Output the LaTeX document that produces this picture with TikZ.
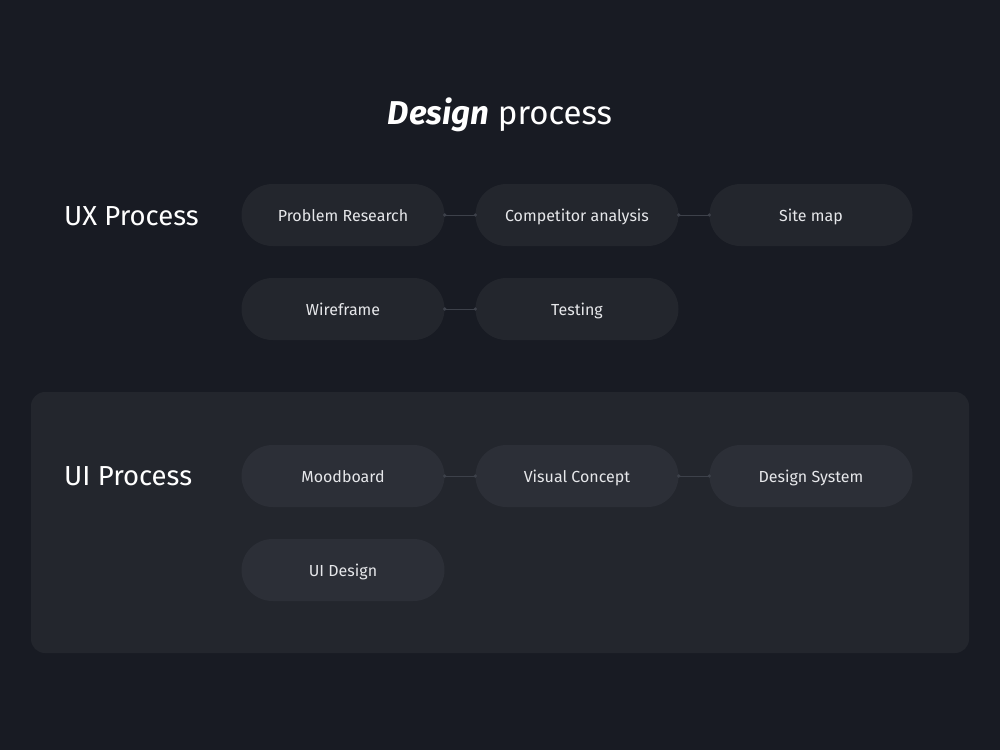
\documentclass[tikz,border=0pt]{standalone}
\usepackage{fontspec}
\setmainfont{Fira Sans}
\usepackage{tikz}

\definecolor{bgdark}{HTML}{181B23}
\definecolor{paneldark}{HTML}{23262D}
\definecolor{pillux}{HTML}{23262D}
\definecolor{pillui}{HTML}{2C2F37}
\definecolor{linkgray}{HTML}{3D414A}
\definecolor{textlight}{HTML}{E6E7EA}

\tikzset{
	pill/.style={shape=rectangle,rounded corners=31pt,minimum width=203pt,minimum height=62pt,inner sep=0pt,text height=12.5pt,text depth=0pt,text=textlight,font=\fontsize{16}{19}\selectfont},
	link/.style={draw=linkgray,line width=0.8pt},
	section/.style={anchor=west,inner sep=0pt,text height=19.5pt,text depth=0.5pt,text=white,font=\fontsize{27.5}{32}\selectfont}
}

\begin{document}
\begin{tikzpicture}[x=1pt,y=-1pt]
	\fill[bgdark] (0,0) rectangle (1000,750);
	\useasboundingbox (0,0) rectangle (1000,750);
	\fill[paneldark,rounded corners=14pt] (31,392) rectangle (969,653);

	\node[text=white,font=\fontsize{33}{38}\selectfont] (title) at (500, 115) {\textbf{\textit{Design}} process};

	\node[section] (ux) at (64, 216) {UX Process};
	\node[section] (ui) at (64, 476) {UI Process};

	\node[pill,fill=pillux] (research) at (343, 215) {Problem Research};
	\node[pill,fill=pillux] (compet)   at (577, 215) {Competitor analysis};
	\node[pill,fill=pillux] (sitemap)  at (811, 215) {Site map};
	\node[pill,fill=pillux] (wire)     at (343, 309) {Wireframe};
	\node[pill,fill=pillux] (testing)  at (577, 309) {Testing};

	\node[pill,fill=pillui] (mood)     at (343, 476) {Moodboard};
	\node[pill,fill=pillui] (visual)   at (577, 476) {Visual Concept};
	\node[pill,fill=pillui] (system)   at (811, 476) {Design System};
	\node[pill,fill=pillui] (uidesign) at (343, 570) {UI Design};

	\foreach \a/\b in {research/compet, compet/sitemap, wire/testing, mood/visual, visual/system} {
		\draw[link] (\a.east) -- (\b.west);
		\fill[linkgray] (\a.east) circle (1.8);
		\fill[linkgray] (\b.west) circle (1.8);
	}
\end{tikzpicture}
\end{document}
